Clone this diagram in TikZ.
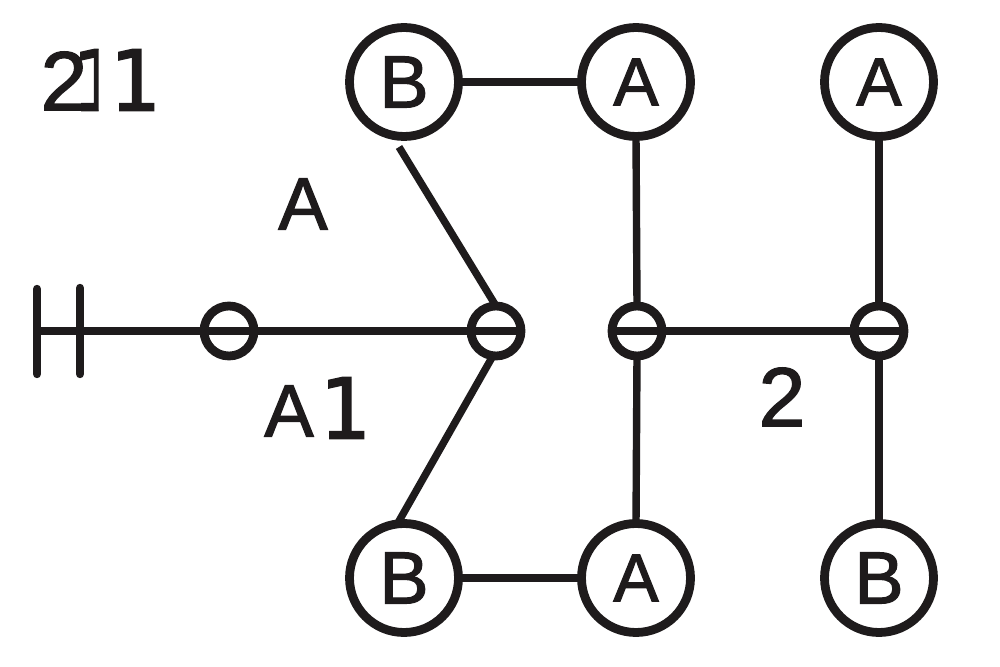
\documentclass[tikz,border=0pt]{standalone}
\usepackage{fontspec}
\setmainfont{Liberation Sans}
\newfontfamily\heavyfont[RawFeature={embolden=1.6}]{Liberation Sans}
\newfontfamily\slabfont[RawFeature={embolden=1.8}]{DejaVu Sans Mono}
\definecolor{ink}{HTML}{1E1B1C}
\tikzset{
  bigc/.style={circle,draw=ink,line width=4.4pt,minimum size=54.5pt,inner sep=0pt,outer sep=0pt,text=ink,font=\heavyfont\fontsize{34}{34}\selectfont},
  bigb/.style={bigc,font=\heavyfont\fontsize{37}{37}\selectfont},
  smallc/.style={circle,draw=ink,line width=4.4pt,minimum size=25pt,inner sep=0pt,outer sep=0pt},
  wire/.style={draw=ink,line width=3.7pt},
  tick/.style={draw=ink,line width=4.2pt,line cap=round},
  lab/.style={inner sep=0pt,text=ink,font=\heavyfont\fontsize{37}{37}\selectfont},
  digit/.style={inner sep=0pt,text=ink,font=\heavyfont\fontsize{42}{42}\selectfont},
  slab/.style={inner sep=0pt,text=ink,font=\slabfont\fontsize{42}{42}\selectfont}
}
\begin{document}
\begin{tikzpicture}[x=0.5pt,y=-0.5pt]
\useasboundingbox (0,0) rectangle (1000,667);
% terminals and free ends
\coordinate (t1a) at (37,289);
\coordinate (t1b) at (37,374);
\coordinate (t2a) at (80,288);
\coordinate (t2b) at (80,374);
\coordinate (t1m) at (37,331);
\coordinate (free) at (399,147);
% circles
\node[bigb] (b1) at (404,82) {B};
\node[bigc] (a1) at (636,82) {A};
\node[bigc] (a2) at (879,82) {A};
\node[bigb] (b2) at (404,578) {B};
\node[bigc] (a3) at (636,578) {A};
\node[bigb] (b3) at (879,578) {B};
\node[smallc] (j0) at (229,331) {};
\node[smallc] (j1) at (496,331) {};
\node[smallc] (j2) at (637,331) {};
\node[smallc] (j3) at (879,331) {};
% connectors
\draw[wire] (t1m) -- (j1.east);
\draw[wire] (j2.west) -- (j3.east);
\draw[wire] (b1.east) -- (a1.west);
\draw[wire] (b2.east) -- (a3.west);
\draw[wire] (a1.south) -- (j2.north);
\draw[wire] (j2.south) -- (a3.north);
\draw[wire] (a2.south) -- (j3.north);
\draw[wire] (j3.south) -- (b3.north);
\draw[wire] (free) -- (j1.north);
\draw[wire] (b2.97) -- (j1.-97);
\draw[tick] (t1a) -- (t1b);
\draw[tick] (t2a) -- (t2b);
% labels
\node[digit] (l2) at (64,81) {2};
\begin{scope}
\clip (60,40) rectangle (98.5,112);
\node[slab] (l1a) at (96,80) {1};
\end{scope}
\node[slab] (l1b) at (134,80) {1};
\node[lab] (la) at (303,204) {A};
\node[lab] (la1) at (289,411) {A};
\node[slab] (la1b) at (344,408) {1};
\node[digit] (l2b) at (782,397) {2};
\end{tikzpicture}
\end{document}
